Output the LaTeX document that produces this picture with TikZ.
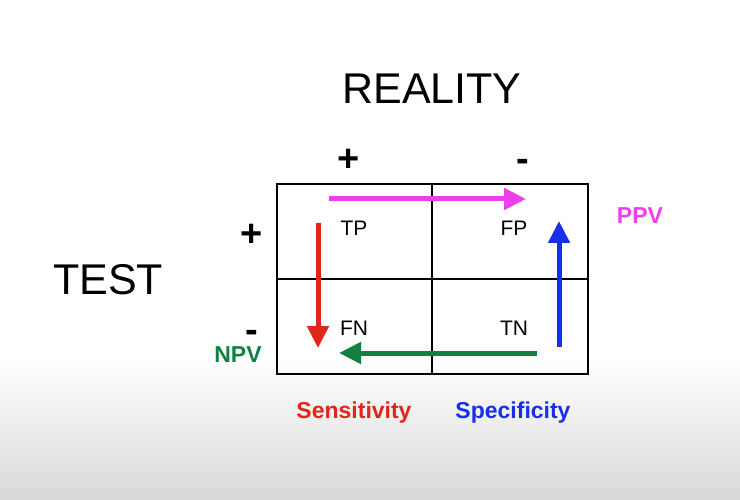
\documentclass[tikz,border=0pt]{standalone}
\usepackage{fontspec}
\setmainfont{Liberation Sans}
\usetikzlibrary{arrows.meta}
\definecolor{cmag}{RGB}{238,64,232}
\definecolor{cred}{RGB}{224,38,26}
\definecolor{cblue}{RGB}{24,46,232}
\definecolor{cgreen}{RGB}{18,128,66}
\begin{document}
\begin{tikzpicture}[x=1pt,y=-1pt,
  grid/.style={line width=1.8pt,black},
  bigarrow/.style={line width=5pt,-{Triangle[length=22pt,width=21pt]}},
  cell/.style={font=\fontsize{21}{21}\selectfont,inner sep=0pt},
  title/.style={font=\fontsize{43}{43}\selectfont,inner sep=0pt},
  sign/.style={font=\fontsize{38}{38}\selectfont\bfseries,inner sep=0pt},
  lab/.style={font=\fontsize{23}{23}\selectfont\bfseries,inner sep=0pt}]
\useasboundingbox (0,0) rectangle (740,500);
\fill[white] (0,0) rectangle (740,360);
\shade[top color=white,bottom color={rgb,255:red,216;green,216;blue,216}] (0,359) rectangle (740,500);
% grid
\draw[grid] (277,184) rectangle (588,374);
\draw[grid] (432,184) -- (432,374);
\draw[grid] (277,279) -- (588,279);
% titles
\node[title] (reality) at (432,89) {REALITY};
\node[title] (test) at (108,280) {TEST};
\node[sign] (rplus) at (349,160) {+};
\node[sign] (rminus) at (523,165) {-};
\node[sign] (tplus) at (252,235) {+};
\node[sign] (tminus) at (252,336) {-};
% cells
\node[cell] (tp) at (354,228) {TP};
\node[cell] (fp) at (514,228) {FP};
\node[cell] (fn) at (354,328) {FN};
\node[cell] (tn) at (514,328) {TN};
% labels
\node[lab,text=cmag] (ppv) at (640,216) {PPV};
\node[lab,text=cgreen] (npv) at (238,355) {NPV};
\node[lab,text=cred] (sens) at (354,413) {Sensitivity};
\node[lab,text=cblue] (spec) at (513,413) {Specificity};
% arrow endpoints
\coordinate (m1) at (329,199);
\coordinate (m2) at (526,199);
\coordinate (r1) at (318,223);
\coordinate (r2) at (318,348);
\coordinate (b1) at (559,347);
\coordinate (b2) at (559,221);
\coordinate (g1) at (537,353);
\coordinate (g2) at (339,353);
\draw[bigarrow,cmag] (m1) -- (m2);
\draw[bigarrow,cred] (r1) -- (r2);
\draw[bigarrow,cblue] (b1) -- (b2);
\draw[bigarrow,cgreen] (g1) -- (g2);
\end{tikzpicture}
\end{document}
